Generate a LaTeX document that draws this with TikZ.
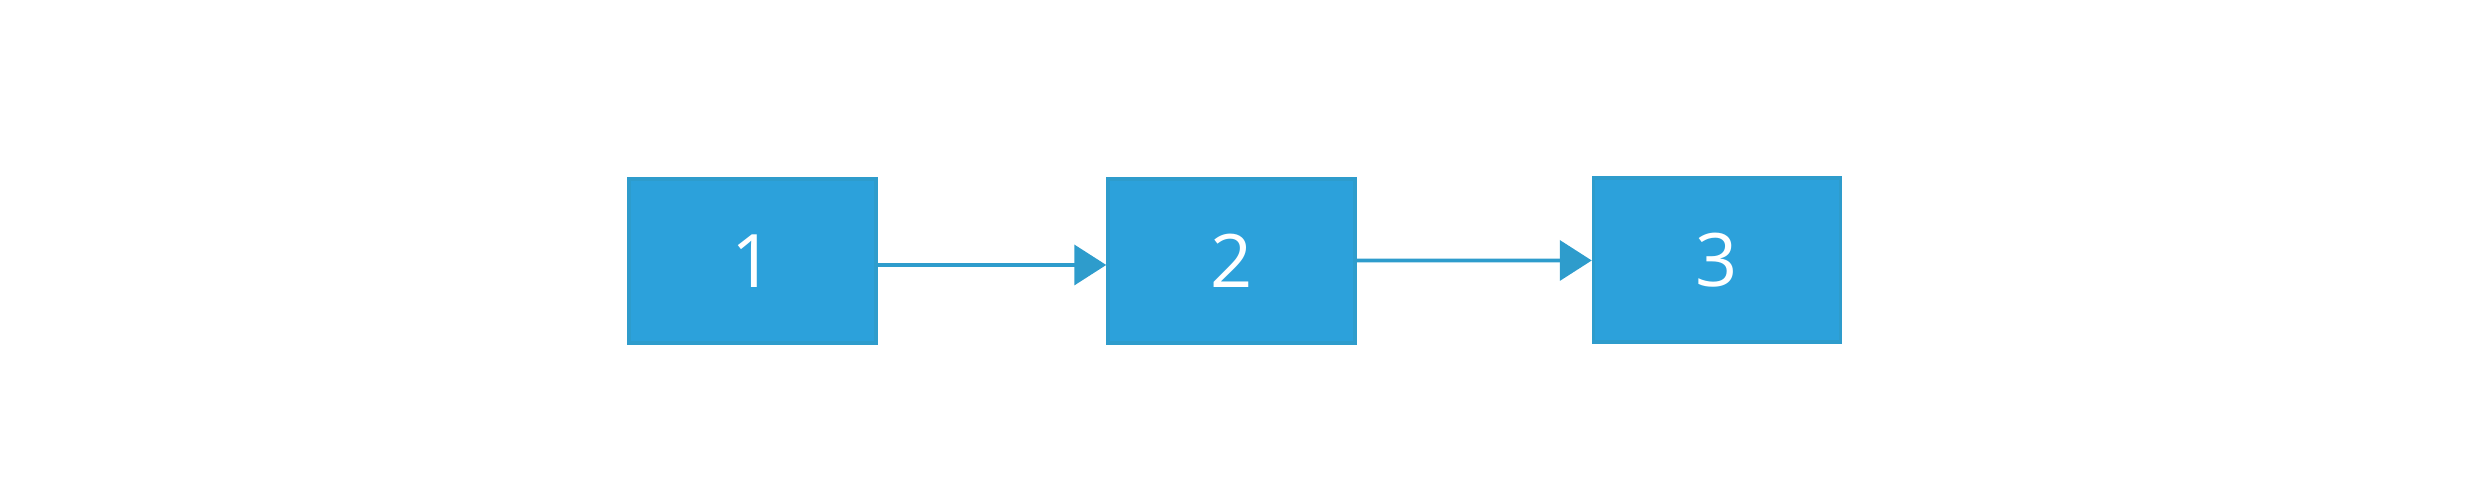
\documentclass[tikz,border=0pt]{standalone}
\usepackage{fontspec}
\setmainfont{Open Sans}
\usetikzlibrary{arrows.meta}
\definecolor{boxblue}{RGB}{44,161,219}
\definecolor{edgeblue}{RGB}{46,156,204}
\begin{document}
\begin{tikzpicture}[
    stepbox/.style={draw=edgeblue, fill=boxblue, line width=1pt, minimum width=2.47cm, minimum height=1.64cm, inner sep=0pt, text=white, font=\fontsize{21}{21}\selectfont},
    link/.style={draw=edgeblue, line width=1.1pt, -{Triangle[length=3.2mm, width=4mm]}}
  ]
    \useasboundingbox (0,0) rectangle (24.82,4.92);
    \node [stepbox] (n1) at (7.525,2.31) {1};
    \node [stepbox] (n2) at (12.315,2.31) {2};
    \node [stepbox] (n3) at (17.17,2.32) {3};
    \draw [link] ([yshift=-0.04cm]n1.east) -- ([yshift=-0.04cm]n2.west);
    \draw [link] ([yshift=0.005cm]n2.east) -- ([yshift=-0.005cm]n3.west);
  \end{tikzpicture}
\end{document}
